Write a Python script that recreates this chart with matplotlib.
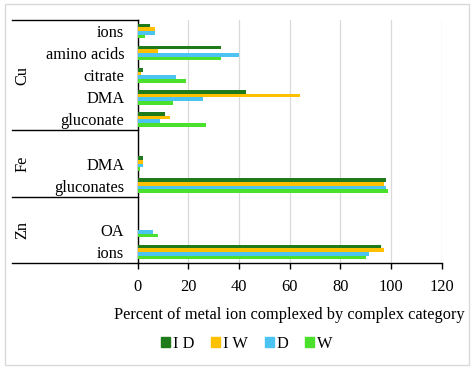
import matplotlib.pyplot as plt
import matplotlib.transforms as mtransforms
from matplotlib.lines import Line2D
from matplotlib.patches import Rectangle, Patch
import numpy as np

plt.rcParams['font.family'] = ['Liberation Serif', 'DejaVu Serif']

# categories bottom to top, '' = blank slot between metal groups
labels = ['ions', 'OA', '', 'gluconates', 'DMA', '', 'gluconate', 'DMA', 'citrate', 'amino acids', 'ions']
groups = ['Zn', 'Fe', 'Cu']
group_span = [(-0.5, 2.5), (2.5, 5.5), (5.5, 10.5)]

series = ['I D', 'I W', 'D', 'W']
colors = ['#1F7A1A', '#FFC000', '#4CC4F2', '#4BE02C']
ID = [96.3, 0, 0, 98, 2, 0, 11, 43, 2, 33, 5]
IW = [97.3, 0, 0, 97.3, 2, 0, 13, 64.2, 1.5, 8, 7]
D = [91.3, 6, 0, 98, 2, 0, 9, 26, 15, 40, 7]
W = [90.2, 8, 0, 99, 1, 0, 27, 14, 19, 33, 3]
values = [ID, IW, D, W]

fs = 11.8
fig = plt.figure(figsize=(4.74, 3.69), dpi=100)
W_px, H_px = 474, 369
ax = fig.add_axes([137.5 / W_px, 1 - 263 / H_px, 304 / W_px, 243 / H_px])

y = np.arange(len(labels))
h = 0.165
offsets = [1.5 * h, 0.5 * h, -0.5 * h, -1.5 * h]
for vals, c, off, name in zip(values, colors, offsets, series):
    ax.barh(y + off, vals, height=h, color=c, label=name, zorder=3)

ax.set_xlim(0, 120)
ax.set_ylim(-0.5, 10.5)
ax.set_xticks(range(0, 121, 20))
ax.set_yticks(y)
ax.set_yticklabels(labels)
ax.tick_params(axis='y', length=0, pad=9.5, labelsize=fs)
ax.tick_params(axis='x', direction='out', length=4, width=1, pad=7.5, labelsize=fs)
ax.grid(axis='x', color='#D9D9D9', linewidth=0.9, zorder=0)
for s in ['top', 'right']:
    ax.spines[s].set_visible(False)
ax.spines['left'].set_linewidth(1)
ax.spines['bottom'].set_linewidth(1)
ax.set_xlabel('Percent of metal ion complexed by complex category', fontsize=fs, labelpad=9)

# table lines and group labels left of the axis
trans = mtransforms.blended_transform_factory(ax.transAxes, ax.transData)
x_left = (12 - 137.5) / 304
for yl in [10.5, 5.5, 2.5, -0.5]:
    ax.add_line(Line2D([x_left, 0], [yl, yl], transform=trans, color='black',
                       linewidth=1, clip_on=False))
x_grp = (22 - 137.5) / 304
for g, (a, b) in zip(groups, group_span):
    ax.text(x_grp, (a + b) / 2, g, transform=trans, rotation=90, ha='center',
            va='center', fontsize=fs)

# legend
handles = [Patch(color=c, label=n) for c, n in zip(colors, series)]
fig.legend(handles=handles, loc='center', bbox_to_anchor=(247 / W_px, 1 - 344 / H_px),
           ncol=4, frameon=False, fontsize=fs, handlelength=0.55, handleheight=0.55,
           handletextpad=0.2, columnspacing=1.0)

# outer frame
fig.patches.append(Rectangle((5 / W_px, 4 / H_px), 464 / W_px, 361 / H_px,
                             transform=fig.transFigure, fill=False,
                             edgecolor='#D9D9D9', linewidth=1))

fig.savefig('out.png', dpi=100)
